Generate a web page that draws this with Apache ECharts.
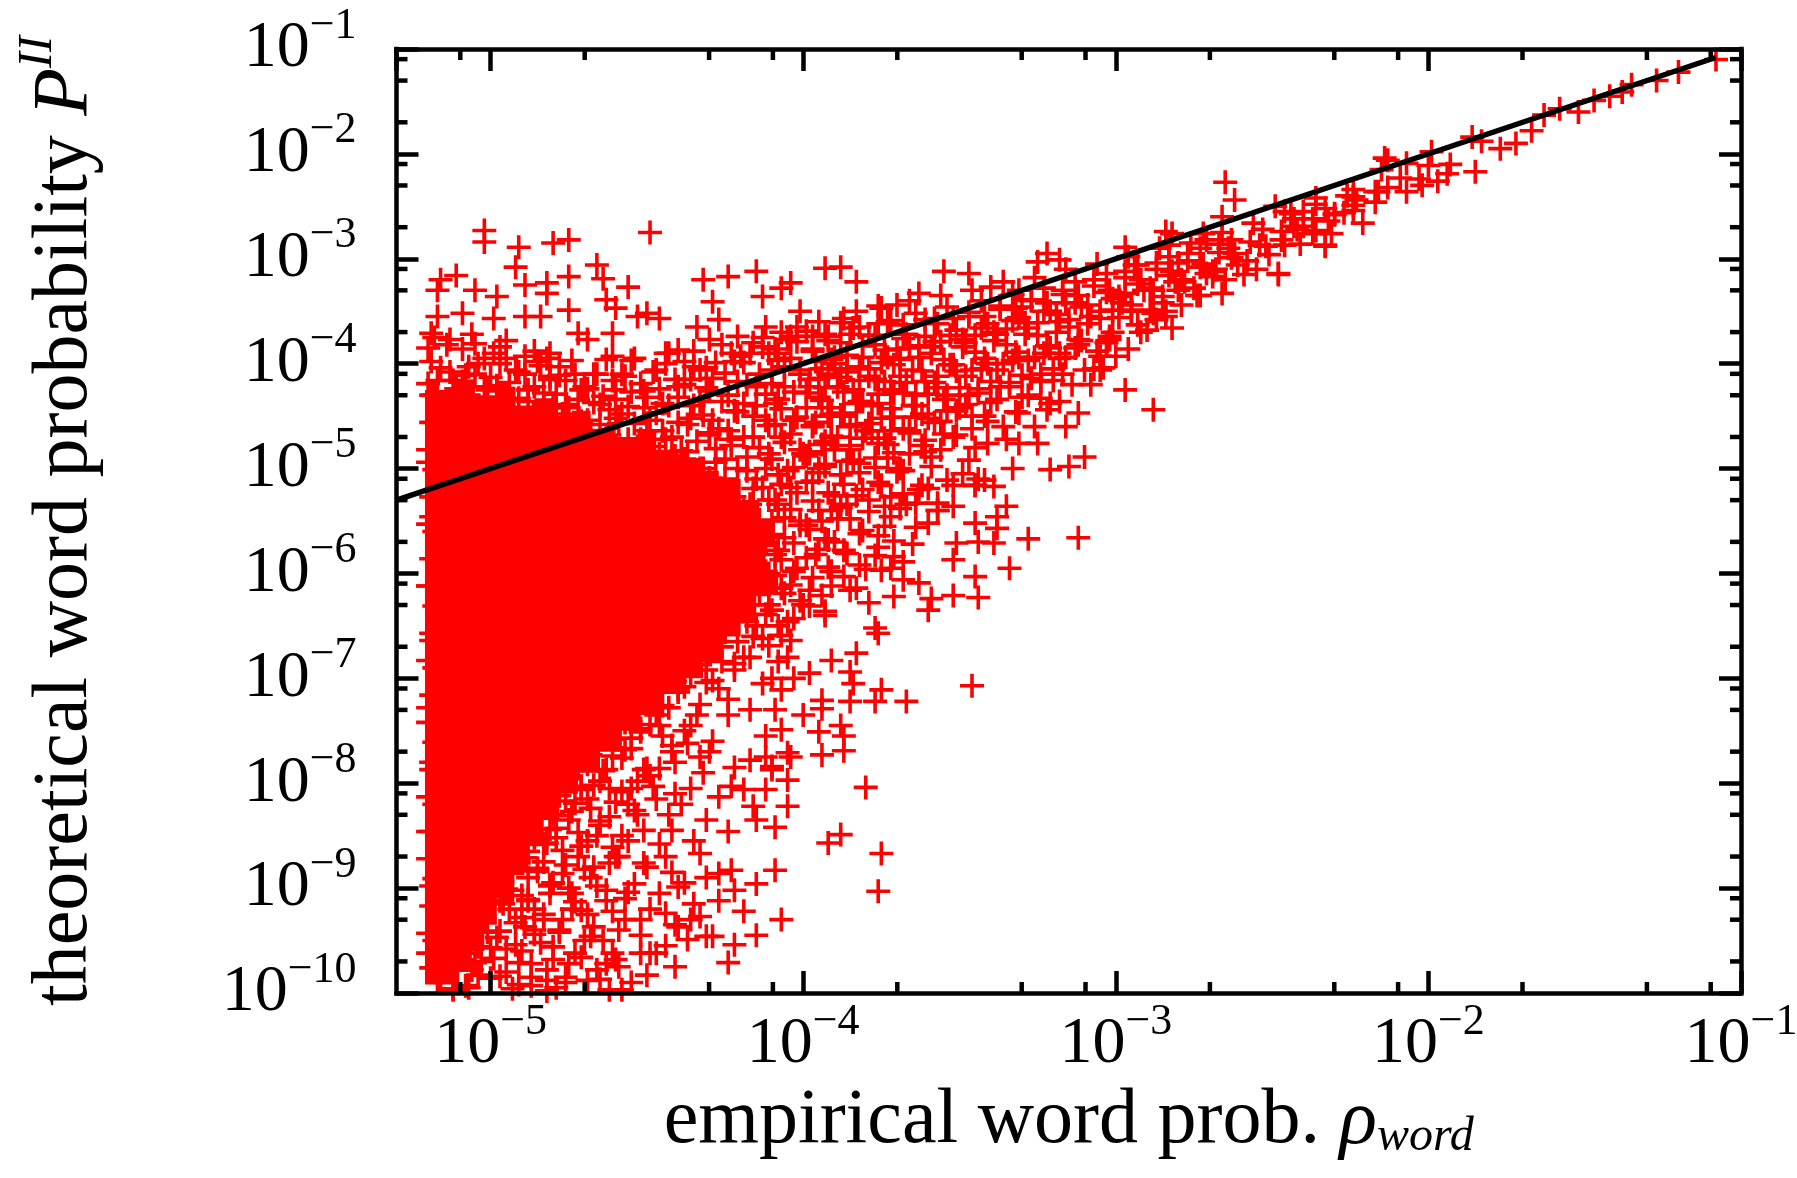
<!DOCTYPE html>
<html>
<head>
<meta charset="utf-8">
<script src="https://cdn.jsdelivr.net/npm/echarts@6/dist/echarts.min.js"></script>
<style>
html,body{margin:0;padding:0;background:#fff;}
#chart{width:1797px;height:1178px;}
</style>
</head>
<body>
<div id="chart"></div>
<script>
// Each word: [log10(rho_word), log10(P^II)]
const coreWords = [
[-5.18,-4.3],[-5.13,-4.35],[-5.16,-4.43],[-5.11,-4.49],[-5.19,-4.56],[-5.14,-4.6],[-5.17,-4.69],[-5.12,-4.75],[-5.2,-4.82],[-5.15,-4.87],[-5.13,-4.95],[-5.18,-5.01],[-5.11,-5.08],[-5.16,-5.12],[-5.14,-5.21],[-5.19,-5.27],[-5.12,-5.34],[-5.17,-5.39],[-5.15,-5.47],[-5.2,-5.53],
[-5.18,-5.6],[-5.13,-5.64],[-5.16,-5.73],[-5.11,-5.79],[-5.19,-5.86],[-5.14,-5.91],[-5.17,-5.99],[-5.12,-6.05],[-5.2,-6.12],[-5.15,-6.16],[-5.13,-6.25],[-5.18,-6.31],[-5.11,-6.38],[-5.16,-6.43],[-5.14,-6.51],[-5.19,-6.57],[-5.12,-6.64],[-5.17,-6.68],[-5.15,-6.77],[-5.2,-6.83],
[-5.18,-6.9],[-5.13,-6.95],[-5.16,-7.03],[-5.11,-7.09],[-5.19,-7.16],[-5.14,-7.2],[-5.17,-7.29],[-5.12,-7.35],[-5.2,-7.42],[-5.15,-7.47],[-5.13,-7.55],[-5.18,-7.61],[-5.11,-7.68],[-5.16,-7.72],[-5.14,-7.81],[-5.19,-7.87],[-5.12,-7.94],[-5.17,-7.99],[-5.15,-8.07],[-5.2,-8.13],
[-5.18,-8.2],[-5.13,-8.24],[-5.16,-8.33],[-5.11,-8.39],[-5.19,-8.46],[-5.14,-8.51],[-5.17,-8.59],[-5.12,-8.65],[-5.2,-8.72],[-5.15,-8.76],[-5.13,-8.85],[-5.18,-8.91],[-5.11,-8.98],[-5.16,-9.03],[-5.14,-9.11],[-5.19,-9.17],[-5.12,-9.24],[-5.17,-9.28],[-5.15,-9.37],[-5.2,-9.43],
[-5.18,-9.5],[-5.13,-9.55],[-5.16,-9.63],[-5.11,-9.69],[-5.19,-9.76],[-5.14,-9.8],[-5.17,-9.89],[-5.12,-9.97],
[-5.05,-4.1],[-5.09,-4.17],[-5.02,-4.22],[-5.07,-4.3],[-5.01,-4.36],[-5.1,-4.42],[-5.04,-4.49],[-5.08,-4.54],[-5.03,-4.62],[-5.06,-4.69],[-5,-4.74],[-5.07,-4.82],[-5.03,-4.88],
[-5.05,-4.94],[-5.09,-5.01],[-5.02,-5.06],[-5.07,-5.14],[-5.01,-5.21],[-5.1,-5.26],[-5.04,-5.34],[-5.08,-5.4],[-5.03,-5.46],[-5.06,-5.53],[-5,-5.58],[-5.07,-5.66],[-5.03,-5.73],
[-5.05,-5.78],[-5.09,-5.86],[-5.02,-5.92],[-5.07,-5.98],[-5.01,-6.05],[-5.1,-6.1],[-5.04,-6.18],[-5.08,-6.25],[-5.03,-6.3],[-5.06,-6.38],[-5,-6.44],[-5.07,-6.5],[-5.03,-6.57],
[-5.05,-6.62],[-5.09,-6.7],[-5.02,-6.77],[-5.07,-6.82],[-5.01,-6.9],[-5.1,-6.96],[-5.04,-7.02],[-5.08,-7.09],[-5.03,-7.14],[-5.06,-7.22],[-5,-7.29],[-5.07,-7.34],[-5.03,-7.42],
[-5.05,-7.48],[-5.09,-7.54],[-5.02,-7.61],[-5.07,-7.66],[-5.01,-7.74],[-5.1,-7.81],[-5.04,-7.86],[-5.08,-7.94],[-5.03,-8],[-5.06,-8.06],[-5,-8.13],[-5.07,-8.18],[-5.03,-8.26],
[-5.05,-8.33],[-5.09,-8.38],[-5.02,-8.46],[-5.07,-8.52],[-5.01,-8.58],[-5.1,-8.65],[-5.04,-8.7],[-5.08,-8.78],[-5.03,-8.85],[-5.06,-8.9],[-5,-8.98],[-5.07,-9.04],[-5.03,-9.1],
[-5.05,-9.17],[-5.09,-9.22],[-5.02,-9.3],[-5.07,-9.37],[-5.01,-9.42],[-5.1,-9.5],[-5.04,-9.56],[-5.08,-9.62],[-5.03,-9.7],[-5.06,-9.78],[-5,-9.86],[-5.07,-9.95],
[-4.97,-4],[-4.92,-4.06],[-5,-4.13],[-4.94,-4.18],[-4.98,-4.26],[-4.91,-4.33],[-4.96,-4.39],[-4.93,-4.44],[-4.99,-4.52],[-4.95,-4.58],[-4.9,-4.65],[-4.97,-4.7],[-4.94,-4.78],[-4.92,-4.85],[-4.98,-4.91],[-4.96,-4.96],[-4.91,-5.04],
[-4.97,-5.1],[-4.92,-5.17],[-5,-5.22],[-4.94,-5.3],[-4.98,-5.37],[-4.91,-5.43],[-4.96,-5.48],[-4.93,-5.56],[-4.99,-5.62],[-4.95,-5.69],[-4.9,-5.74],[-4.97,-5.82],[-4.94,-5.89],[-4.92,-5.95],[-4.98,-6],[-4.96,-6.08],[-4.91,-6.14],
[-4.97,-6.21],[-4.92,-6.26],[-5,-6.34],[-4.94,-6.41],[-4.98,-6.47],[-4.91,-6.52],[-4.96,-6.6],[-4.93,-6.66],[-4.99,-6.73],[-4.95,-6.78],[-4.9,-6.86],[-4.97,-6.93],[-4.94,-6.99],[-4.92,-7.04],[-4.98,-7.12],[-4.96,-7.18],[-4.91,-7.25],
[-4.97,-7.3],[-4.92,-7.38],[-5,-7.45],[-4.94,-7.51],[-4.98,-7.56],[-4.91,-7.64],[-4.96,-7.7],[-4.93,-7.77],[-4.99,-7.82],[-4.95,-7.9],[-4.9,-7.97],[-4.97,-8.03],[-4.94,-8.08],[-4.92,-8.16],[-4.98,-8.22],[-4.96,-8.29],[-4.91,-8.34],
[-4.97,-8.42],[-4.92,-8.49],[-5,-8.55],[-4.94,-8.6],[-4.98,-8.68],[-4.91,-8.74],[-4.96,-8.81],[-4.93,-8.86],[-4.99,-8.94],[-4.95,-9.01],[-4.9,-9.07],[-4.97,-9.12],[-4.94,-9.2],
[-4.92,-9.33],[-4.98,-9.47],[-4.95,-9.58],[-4.91,-9.71],[-4.97,-9.84],[-4.93,-9.96],
[-4.84,-4.02],[-4.89,-4.1],[-4.81,-4.15],[-4.86,-4.22],[-4.83,-4.28],[-4.88,-4.36],[-4.8,-4.42],[-4.85,-4.49],[-4.9,-4.54],[-4.82,-4.62],[-4.87,-4.67],
[-4.84,-4.74],[-4.89,-4.8],[-4.81,-4.88],[-4.86,-4.94],[-4.83,-5.01],[-4.88,-5.06],[-4.8,-5.14],[-4.85,-5.19],[-4.9,-5.26],[-4.82,-5.32],[-4.87,-5.4],
[-4.84,-5.46],[-4.89,-5.53],[-4.81,-5.58],[-4.86,-5.66],[-4.83,-5.71],[-4.88,-5.78],[-4.8,-5.84],[-4.85,-5.92],[-4.9,-5.98],[-4.82,-6.05],[-4.87,-6.1],
[-4.84,-6.18],[-4.89,-6.23],[-4.81,-6.3],[-4.86,-6.36],[-4.83,-6.44],[-4.88,-6.5],[-4.8,-6.57],[-4.85,-6.62],[-4.9,-6.7],[-4.82,-6.75],[-4.87,-6.82],
[-4.84,-6.88],[-4.89,-6.96],[-4.81,-7.02],[-4.86,-7.09],[-4.83,-7.14],[-4.88,-7.22],[-4.8,-7.27],[-4.85,-7.34],[-4.9,-7.4],[-4.82,-7.48],[-4.87,-7.54],
[-4.84,-7.61],[-4.89,-7.66],[-4.81,-7.74],[-4.86,-7.79],[-4.83,-7.86],[-4.88,-7.92],[-4.8,-8],[-4.85,-8.06],[-4.9,-8.13],[-4.82,-8.18],[-4.87,-8.26],
[-4.84,-8.31],[-4.89,-8.38],[-4.81,-8.44],[-4.86,-8.52],[-4.83,-8.58],[-4.88,-8.65],
[-4.85,-8.81],[-4.81,-8.97],[-4.88,-9.12],[-4.83,-9.3],[-4.86,-9.44],[-4.9,-9.6],[-4.82,-9.78],[-4.87,-9.93],
[-4.78,-4.03],[-4.73,-4.1],[-4.76,-4.16],[-4.7,-4.22],[-4.79,-4.29],[-4.72,-4.34],[-4.75,-4.42],[-4.77,-4.48],[-4.71,-4.55],
[-4.78,-4.62],[-4.73,-4.68],[-4.76,-4.74],[-4.7,-4.81],[-4.79,-4.86],[-4.72,-4.94],[-4.75,-5],[-4.77,-5.07],[-4.71,-5.14],
[-4.78,-5.2],[-4.73,-5.26],[-4.76,-5.33],[-4.7,-5.38],[-4.79,-5.46],[-4.72,-5.52],[-4.75,-5.59],[-4.77,-5.66],[-4.71,-5.72],
[-4.78,-5.78],[-4.73,-5.85],[-4.76,-5.9],[-4.7,-5.98],[-4.79,-6.04],[-4.72,-6.11],[-4.75,-6.18],[-4.77,-6.24],[-4.71,-6.3],
[-4.78,-6.37],[-4.73,-6.42],[-4.76,-6.5],[-4.7,-6.56],[-4.79,-6.63],[-4.72,-6.7],[-4.75,-6.76],[-4.77,-6.82],[-4.71,-6.89],
[-4.78,-6.94],[-4.73,-7.02],[-4.76,-7.08],[-4.7,-7.15],[-4.79,-7.22],[-4.72,-7.28],[-4.75,-7.34],[-4.77,-7.41],[-4.71,-7.46],
[-4.78,-7.54],[-4.73,-7.6],[-4.76,-7.67],[-4.7,-7.74],[-4.79,-7.8],[-4.72,-7.86],[-4.75,-7.93],[-4.77,-7.98],[-4.71,-8.06],
[-4.78,-8.12],[-4.73,-8.19],
[-4.75,-8.35],[-4.79,-8.52],[-4.72,-8.7],[-4.77,-8.86],[-4.74,-9.05],[-4.71,-9.21],[-4.78,-9.4],[-4.73,-9.62],[-4.76,-9.85],
[-4.66,-4.1],[-4.61,-4.16],[-4.69,-4.24],[-4.64,-4.31],[-4.67,-4.37],[-4.62,-4.44],[-4.6,-4.52],[-4.65,-4.58],[-4.68,-4.65],[-4.63,-4.71],[-4.7,-4.79],[-4.64,-4.86],[-4.67,-4.92],
[-4.66,-4.99],[-4.61,-5.07],[-4.69,-5.13],[-4.64,-5.2],[-4.67,-5.26],[-4.62,-5.34],[-4.6,-5.41],[-4.65,-5.47],[-4.68,-5.54],[-4.63,-5.62],[-4.7,-5.68],[-4.64,-5.75],[-4.67,-5.81],
[-4.66,-5.89],[-4.61,-5.96],[-4.69,-6.02],[-4.64,-6.09],[-4.67,-6.17],[-4.62,-6.23],[-4.6,-6.3],[-4.65,-6.36],[-4.68,-6.44],[-4.63,-6.51],[-4.7,-6.57],[-4.64,-6.64],[-4.67,-6.72],
[-4.66,-6.78],[-4.61,-6.85],[-4.69,-6.91],[-4.64,-6.99],[-4.67,-7.06],[-4.62,-7.12],[-4.6,-7.19],[-4.65,-7.27],[-4.68,-7.33],[-4.63,-7.4],[-4.7,-7.46],[-4.64,-7.54],[-4.67,-7.61],
[-4.66,-7.67],[-4.61,-7.74],[-4.69,-7.82],[-4.64,-7.88],
[-4.62,-8.05],[-4.68,-8.24],[-4.65,-8.4],[-4.61,-8.61],[-4.67,-8.8],[-4.63,-9.02],[-4.69,-9.25],[-4.64,-9.5],[-4.66,-9.78],[-4.62,-9.97],
[-4.57,-4.12],[-4.52,-4.19],[-4.55,-4.27],[-4.6,-4.34],[-4.51,-4.42],[-4.58,-4.48],[-4.54,-4.57],[-4.5,-4.64],[-4.56,-4.72],[-4.53,-4.79],[-4.59,-4.87],
[-4.57,-4.94],[-4.52,-5.02],[-4.55,-5.08],[-4.6,-5.17],[-4.51,-5.24],[-4.58,-5.32],[-4.54,-5.39],[-4.5,-5.47],[-4.56,-5.54],[-4.53,-5.62],[-4.59,-5.68],
[-4.57,-5.77],[-4.52,-5.84],[-4.55,-5.92],[-4.6,-5.99],[-4.51,-6.07],[-4.58,-6.14],[-4.54,-6.22],[-4.5,-6.28],[-4.56,-6.37],[-4.53,-6.44],[-4.59,-6.52],
[-4.57,-6.59],[-4.52,-6.67],[-4.55,-6.74],[-4.6,-6.82],[-4.51,-6.88],[-4.58,-6.97],[-4.54,-7.04],[-4.5,-7.12],[-4.56,-7.19],[-4.53,-7.27],[-4.59,-7.34],
[-4.57,-7.42],[-4.52,-7.48],[-4.55,-7.57],
[-4.58,-7.76],[-4.53,-7.98],[-4.56,-8.2],[-4.51,-8.45],[-4.59,-8.7],[-4.54,-8.96],[-4.57,-9.3],[-4.52,-9.62],[-4.55,-9.9],
[-4.44,-4],[-4.48,-4.08],[-4.41,-4.15],[-4.46,-4.24],[-4.5,-4.32],[-4.43,-4.4],[-4.47,-4.47],[-4.4,-4.56],[-4.45,-4.64],
[-4.44,-4.72],[-4.48,-4.79],[-4.41,-4.88],[-4.46,-4.96],[-4.5,-5.04],[-4.43,-5.11],[-4.47,-5.2],[-4.4,-5.28],[-4.45,-5.36],
[-4.44,-5.43],[-4.48,-5.52],[-4.41,-5.6],[-4.46,-5.68],[-4.5,-5.75],[-4.43,-5.84],[-4.47,-5.92],[-4.4,-6],[-4.45,-6.07],
[-4.44,-6.16],[-4.48,-6.24],[-4.41,-6.32],[-4.46,-6.39],[-4.5,-6.48],[-4.43,-6.56],[-4.47,-6.64],[-4.4,-6.71],[-4.45,-6.8],
[-4.44,-6.88],[-4.48,-6.96],[-4.41,-7.03],[-4.46,-7.12],[-4.5,-7.2],[-4.43,-7.28],[-4.47,-7.35],
[-4.45,-7.55],[-4.41,-7.8],[-4.48,-8.03],[-4.43,-8.3],[-4.46,-8.58],[-4.42,-8.85],[-4.49,-9.2],[-4.44,-9.55],
[-4.38,-3.98],[-4.33,-4.06],[-4.36,-4.15],[-4.31,-4.23],[-4.4,-4.32],[-4.35,-4.4],[-4.32,-4.49],[-4.37,-4.58],[-4.3,-4.66],[-4.34,-4.74],[-4.39,-4.83],
[-4.38,-4.91],[-4.33,-5],[-4.36,-5.08],[-4.31,-5.17],[-4.4,-5.26],[-4.35,-5.34],[-4.32,-5.42],[-4.37,-5.51],[-4.3,-5.59],[-4.34,-5.68],[-4.39,-5.76],
[-4.38,-5.85],[-4.33,-5.94],[-4.36,-6.02],[-4.31,-6.1],[-4.4,-6.19],[-4.35,-6.27],[-4.32,-6.36],[-4.37,-6.44],[-4.3,-6.53],[-4.34,-6.62],[-4.39,-6.7],
[-4.38,-6.78],[-4.33,-6.87],[-4.36,-6.95],[-4.31,-7.04],[-4.4,-7.13],
[-4.34,-7.35],[-4.37,-7.62],[-4.32,-7.9],[-4.39,-8.2],[-4.35,-8.55],[-4.31,-8.9],[-4.36,-9.3],
[-5.18,-3.75],[-5.14,-3.82],[-5.19,-3.98],[-5.13,-4.08],[-5.17,-4.16],[-5.11,-4.24],[-5.06,-3.72],[-5.09,-3.86],[-5.02,-3.95],[-5.07,-4.03],
[-4.95,-3.78],[-4.99,-3.9],[-4.86,-3.88],[-4.82,-3.95]
];

const coreWords2 = [
[-5.16,-4.04],[-5.12,-4.16],[-5.19,-4.3],[-5.14,-4.42],[-5.11,-4.56],[-5.17,-4.68],[-5.13,-4.82],[-5.2,-4.94],[-5.15,-5.08],
[-5.16,-5.2],[-5.12,-5.34],[-5.19,-5.46],[-5.14,-5.6],[-5.11,-5.72],[-5.17,-5.86],[-5.13,-5.98],[-5.2,-6.12],[-5.15,-6.24],
[-5.16,-6.38],[-5.12,-6.5],[-5.19,-6.64],[-5.14,-6.76],[-5.11,-6.9],[-5.17,-7.02],[-5.13,-7.16],[-5.2,-7.28],[-5.15,-7.42],
[-5.16,-7.54],[-5.12,-7.68],[-5.19,-7.8],[-5.14,-7.94],[-5.11,-8.06],[-5.17,-8.2],[-5.13,-8.32],[-5.2,-8.46],[-5.15,-8.58],
[-5.16,-8.72],[-5.12,-8.84],[-5.19,-8.98],[-5.14,-9.1],[-5.11,-9.24],[-5.17,-9.36],[-5.13,-9.5],[-5.2,-9.62],[-5.15,-9.76],
[-5.16,-9.88],[-5.12,-9.96],
[-5.04,-4],[-5.08,-4.11],[-5.01,-4.25],[-5.06,-4.37],[-5.09,-4.51],[-5.03,-4.63],[-5.07,-4.77],[-5,-4.89],[-5.05,-5.03],
[-5.04,-5.15],[-5.08,-5.29],[-5.01,-5.41],[-5.06,-5.55],[-5.09,-5.67],[-5.03,-5.81],[-5.07,-5.93],[-5,-6.07],[-5.05,-6.19],
[-5.04,-6.33],[-5.08,-6.45],[-5.01,-6.59],[-5.06,-6.71],[-5.09,-6.85],[-5.03,-6.97],[-5.07,-7.11],[-5,-7.23],[-5.05,-7.37],
[-5.04,-7.49],[-5.08,-7.63],[-5.01,-7.75],[-5.06,-7.89],[-5.09,-8.01],[-5.03,-8.15],[-5.07,-8.27],[-5,-8.41],[-5.05,-8.53],
[-5.04,-8.67],[-5.08,-8.79],[-5.01,-8.93],[-5.06,-9.05],[-5.09,-9.19],[-5.03,-9.31],[-5.07,-9.45],[-5,-9.57],[-5.05,-9.71],
[-5.04,-9.83],[-5.08,-9.93],
[-4.95,-3.95],[-4.91,-4.08],[-4.98,-4.21],[-4.93,-4.34],[-4.96,-4.47],[-4.9,-4.6],[-4.97,-4.73],[-4.92,-4.86],[-4.99,-4.99],
[-4.95,-5.12],[-4.91,-5.25],[-4.98,-5.38],[-4.93,-5.51],[-4.96,-5.64],[-4.9,-5.77],[-4.97,-5.9],[-4.92,-6.03],[-4.99,-6.16],
[-4.95,-6.29],[-4.91,-6.42],[-4.98,-6.55],[-4.93,-6.68],[-4.96,-6.81],[-4.9,-6.94],[-4.97,-7.07],[-4.92,-7.2],[-4.99,-7.33],
[-4.95,-7.46],[-4.91,-7.59],[-4.98,-7.72],[-4.93,-7.85],[-4.96,-7.98],[-4.9,-8.11],[-4.97,-8.24],[-4.92,-8.37],[-4.99,-8.5],
[-4.95,-8.63],[-4.91,-8.76],[-4.98,-8.89],[-4.93,-9.02],[-4.96,-9.15],[-4.9,-9.28],[-4.97,-9.41],[-4.92,-9.54],[-4.99,-9.67],
[-4.95,-9.8],[-4.91,-9.92],
[-4.85,-3.98],[-4.81,-4.12],[-4.88,-4.25],[-4.83,-4.39],[-4.86,-4.52],[-4.8,-4.66],[-4.87,-4.79],[-4.82,-4.93],[-4.89,-5.06],
[-4.85,-5.2],[-4.81,-5.33],[-4.88,-5.47],[-4.83,-5.6],[-4.86,-5.74],[-4.8,-5.87],[-4.87,-6.01],[-4.82,-6.14],[-4.89,-6.28],
[-4.85,-6.41],[-4.81,-6.55],[-4.88,-6.68],[-4.83,-6.82],[-4.86,-6.95],[-4.8,-7.09],[-4.87,-7.22],[-4.82,-7.36],[-4.89,-7.49],
[-4.85,-7.63],[-4.81,-7.76],[-4.88,-7.9],[-4.83,-8.03],[-4.86,-8.17],[-4.8,-8.3],[-4.87,-8.44],[-4.82,-8.57],[-4.89,-8.71],
[-4.85,-8.84],[-4.81,-8.98],[-4.88,-9.11],[-4.83,-9.25],[-4.86,-9.4],[-4.8,-9.56],[-4.87,-9.72],[-4.82,-9.88],
[-4.74,-3.97],[-4.78,-4.11],[-4.71,-4.25],[-4.76,-4.39],[-4.79,-4.53],[-4.72,-4.67],[-4.77,-4.81],[-4.7,-4.95],[-4.75,-5.09],
[-4.74,-5.23],[-4.78,-5.37],[-4.71,-5.51],[-4.76,-5.65],[-4.79,-5.79],[-4.72,-5.93],[-4.77,-6.07],[-4.7,-6.21],[-4.75,-6.35],
[-4.74,-6.49],[-4.78,-6.63],[-4.71,-6.77],[-4.76,-6.91],[-4.79,-7.05],[-4.72,-7.19],[-4.77,-7.33],[-4.7,-7.47],[-4.75,-7.61],
[-4.74,-7.75],[-4.78,-7.89],[-4.71,-8.03],[-4.76,-8.17],[-4.79,-8.31],[-4.72,-8.47],[-4.77,-8.64],[-4.7,-8.82],[-4.75,-9],
[-4.74,-9.2],[-4.78,-9.42],[-4.71,-9.66],[-4.76,-9.9],
[-4.63,-3.96],[-4.67,-4.1],[-4.6,-4.25],[-4.65,-4.39],[-4.69,-4.54],[-4.62,-4.68],[-4.66,-4.83],[-4.61,-4.97],[-4.68,-5.12],
[-4.63,-5.26],[-4.67,-5.41],[-4.6,-5.55],[-4.65,-5.7],[-4.69,-5.84],[-4.62,-5.99],[-4.66,-6.13],[-4.61,-6.28],[-4.68,-6.42],
[-4.63,-6.57],[-4.67,-6.71],[-4.6,-6.86],[-4.65,-7],[-4.69,-7.15],[-4.62,-7.29],[-4.66,-7.44],[-4.61,-7.58],[-4.68,-7.73],
[-4.63,-7.87],[-4.67,-8.02],[-4.6,-8.18],[-4.65,-8.36],[-4.69,-8.55],[-4.62,-8.76],[-4.66,-8.98],[-4.61,-9.22],[-4.68,-9.46],
[-4.63,-9.72],
[-4.54,-3.95],[-4.58,-4.1],[-4.51,-4.26],[-4.56,-4.41],[-4.59,-4.57],[-4.52,-4.72],[-4.57,-4.88],[-4.5,-5.03],[-4.55,-5.19],
[-4.54,-5.34],[-4.58,-5.5],[-4.51,-5.65],[-4.56,-5.81],[-4.59,-5.96],[-4.52,-6.12],[-4.57,-6.27],[-4.5,-6.43],[-4.55,-6.58],
[-4.54,-6.74],[-4.58,-6.89],[-4.51,-7.05],[-4.56,-7.2],[-4.59,-7.36],[-4.52,-7.51],[-4.57,-7.68],[-4.5,-7.86],[-4.55,-8.05],
[-4.54,-8.26],[-4.58,-8.5],[-4.51,-8.76],[-4.56,-9.04],[-4.59,-9.4],
[-4.43,-3.9],[-4.47,-4.06],[-4.4,-4.22],[-4.45,-4.38],[-4.49,-4.54],[-4.42,-4.7],[-4.46,-4.86],[-4.41,-5.02],[-4.48,-5.18],
[-4.43,-5.34],[-4.47,-5.5],[-4.4,-5.66],[-4.45,-5.82],[-4.49,-5.98],[-4.42,-6.14],[-4.46,-6.3],[-4.41,-6.46],[-4.48,-6.62],
[-4.43,-6.78],[-4.47,-6.94],[-4.4,-7.1],[-4.45,-7.26],[-4.49,-7.44],[-4.42,-7.64],[-4.46,-7.86],[-4.41,-8.1],
[-4.35,-3.88],[-4.31,-4.04],[-4.38,-4.2],[-4.33,-4.36],[-4.36,-4.52],[-4.3,-4.68],[-4.37,-4.84],[-4.32,-5],[-4.39,-5.16],
[-4.35,-5.32],[-4.31,-5.48],[-4.38,-5.64],[-4.33,-5.8],[-4.36,-5.96],[-4.3,-6.12],[-4.37,-6.28],[-4.32,-6.44],[-4.39,-6.6],
[-4.35,-6.76],[-4.31,-6.92],[-4.38,-7.08],[-4.33,-7.25],[-4.36,-7.45],[-4.3,-7.7],
[-4.26,-3.82],[-4.22,-3.98],[-4.29,-4.14],[-4.24,-4.3],[-4.21,-4.46],[-4.27,-4.62],[-4.23,-4.78],[-4.28,-4.94],[-4.25,-5.1],
[-4.26,-5.26],[-4.22,-5.42],[-4.29,-5.58],[-4.24,-5.74],[-4.21,-5.9],[-4.27,-6.06],[-4.23,-6.22],[-4.28,-6.38],[-4.25,-6.54],
[-4.26,-6.7],[-4.22,-6.86],[-4.29,-7.02],[-4.24,-7.2],
[-4.13,-3.75],[-4.17,-3.9],[-4.1,-4.06],[-4.15,-4.22],[-4.19,-4.38],[-4.12,-4.54],[-4.16,-4.7],[-4.11,-4.86],[-4.18,-5.02],
[-4.13,-5.18],[-4.17,-5.34],[-4.1,-5.5],[-4.15,-5.66],[-4.19,-5.82],[-4.12,-5.98],[-4.16,-6.14],[-4.11,-6.3],[-4.18,-6.46],
[-4.13,-6.62],[-4.17,-6.8],[-4.1,-7],
[-4.04,-3.74],[-4.08,-3.9],[-4.01,-4.06],[-4.06,-4.22],[-4.09,-4.38],[-4.03,-4.54],[-4.07,-4.7],[-4,-4.86],[-4.05,-5.02],
[-4.04,-5.18],[-4.08,-5.34],[-4.01,-5.5],[-4.06,-5.66],[-4.09,-5.82],[-4.03,-5.98],[-4.07,-6.14],[-4,-6.3],[-4.05,-6.46],
[-4.04,-6.64],[-4.08,-6.84]
];

const bandWords2 = [
[-3.93,-3.72],[-3.97,-3.86],[-3.9,-4],[-3.95,-4.14],[-3.99,-4.28],[-3.92,-4.42],[-3.96,-4.56],[-3.91,-4.7],[-3.98,-4.84],
[-3.93,-4.98],[-3.97,-5.12],[-3.9,-5.26],[-3.95,-5.4],[-3.99,-5.54],[-3.92,-5.68],[-3.96,-5.82],[-3.91,-5.98],[-3.98,-6.16],[-3.93,-6.36],
[-3.84,-3.66],[-3.88,-3.8],[-3.81,-3.94],[-3.86,-4.08],[-3.89,-4.22],[-3.82,-4.36],[-3.87,-4.5],[-3.8,-4.64],[-3.85,-4.78],
[-3.84,-4.92],[-3.88,-5.06],[-3.81,-5.2],[-3.86,-5.34],[-3.89,-5.48],[-3.82,-5.62],[-3.87,-5.78],[-3.8,-5.96],[-3.85,-6.16],
[-3.73,-3.6],[-3.77,-3.73],[-3.7,-3.86],[-3.75,-3.99],[-3.79,-4.12],[-3.72,-4.25],[-3.76,-4.38],[-3.71,-4.51],[-3.78,-4.64],
[-3.73,-4.77],[-3.77,-4.9],[-3.7,-5.03],[-3.75,-5.16],[-3.79,-5.3],[-3.72,-5.46],[-3.76,-5.64],[-3.71,-5.84],
[-3.64,-3.52],[-3.68,-3.63],[-3.61,-3.74],[-3.66,-3.85],[-3.69,-3.96],[-3.62,-4.07],[-3.67,-4.18],[-3.6,-4.29],[-3.65,-4.4],
[-3.64,-4.51],[-3.68,-4.62],[-3.61,-4.73],[-3.66,-4.86],[-3.69,-5],[-3.62,-5.16],[-3.67,-5.34],[-3.6,-5.52],[-3.65,-5.72],
[-3.54,-3.46],[-3.58,-3.57],[-3.51,-3.68],[-3.56,-3.79],[-3.59,-3.9],[-3.52,-4.01],[-3.57,-4.12],[-3.5,-4.23],[-3.55,-4.34],
[-3.54,-4.45],[-3.58,-4.56],[-3.51,-4.68],[-3.56,-4.82],[-3.59,-4.98],[-3.52,-5.16],[-3.57,-5.4],
[-3.43,-3.4],[-3.47,-3.51],[-3.41,-3.62],[-3.45,-3.73],[-3.49,-3.84],[-3.42,-3.95],[-3.46,-4.06],[-3.4,-4.17],[-3.44,-4.28],
[-3.48,-4.39],[-3.42,-4.5],[-3.46,-4.62],[-3.41,-4.76],[-3.47,-4.92],[-3.44,-5.1],
[-3.33,-3.34],[-3.37,-3.45],[-3.31,-3.56],[-3.35,-3.67],[-3.39,-3.78],[-3.32,-3.89],[-3.36,-4],[-3.3,-4.11],[-3.34,-4.22],
[-3.38,-4.34],[-3.32,-4.46],[-3.36,-4.6],[-3.31,-4.76],
[-3.23,-3.28],[-3.27,-3.39],[-3.21,-3.5],[-3.25,-3.61],[-3.29,-3.72],[-3.22,-3.83],[-3.26,-3.94],[-3.2,-4.05],[-3.24,-4.17],
[-3.28,-4.3],[-3.22,-4.44],[-3.26,-4.6],
[-3.13,-3.22],[-3.17,-3.34],[-3.11,-3.46],[-3.15,-3.58],[-3.19,-3.7],[-3.12,-3.82],[-3.16,-3.94],[-3.1,-4.06],[-3.14,-4.2],[-3.18,-4.36],
[-3.03,-3.14],[-3.07,-3.26],[-3.01,-3.38],[-3.05,-3.5],[-3.09,-3.62],[-3.02,-3.74],[-3.06,-3.88],[-3.04,-4.04],[-3.08,-4.2],
[-2.93,-3.06],[-2.97,-3.18],[-2.91,-3.3],[-2.95,-3.44],[-2.99,-3.56],[-2.92,-3.7],[-2.96,-3.86],
[-2.83,-2.98],[-2.87,-3.1],[-2.81,-3.22],[-2.85,-3.36],[-2.89,-3.5],[-2.82,-3.66],
[-2.73,-2.9],[-2.77,-3.02],[-2.71,-3.14],[-2.75,-3.28],[-2.79,-3.44],
[-2.63,-2.82],[-2.67,-2.94],[-2.61,-3.06],[-2.65,-3.2],
[-2.53,-2.72],[-2.57,-2.84],[-2.51,-2.96],[-2.55,-3.1],
[-2.43,-2.62],[-2.47,-2.74],[-2.41,-2.86],
[-2.33,-2.52],[-2.37,-2.62],[-2.31,-2.76],
[-2.23,-2.44],[-2.27,-2.56],[-2.21,-2.66],
[-2.13,-2.32],[-2.17,-2.46],[-2.03,-2.24],[-2.07,-2.36],
[-1.93,-2.1],[-1.97,-2.26],[-1.77,-1.95],[-1.72,-1.9],[-1.67,-1.78],[-1.52,-1.6],[-1.42,-1.45],[-1.27,-1.3],[-1.2,-1.22]
];

const bandWords3 = [
[-3.96,-3.98],[-3.92,-4.1],[-3.98,-4.22],[-3.94,-4.35],[-3.91,-4.48],[-3.97,-4.6],[-3.93,-4.74],[-3.99,-4.88],[-3.95,-5],
[-3.86,-3.92],[-3.82,-4.03],[-3.88,-4.13],[-3.84,-4.25],[-3.81,-4.36],[-3.87,-4.47],[-3.83,-4.58],[-3.89,-4.7],[-3.85,-4.82],[-3.82,-4.95],
[-3.77,-3.82],[-3.73,-3.94],[-3.79,-4.05],[-3.74,-4.17],[-3.71,-4.28],[-3.78,-4.4],[-3.75,-4.52],[-3.72,-4.64],[-3.76,-4.76],[-3.73,-4.9],
[-3.67,-3.72],[-3.63,-3.83],[-3.69,-3.95],[-3.65,-4.06],[-3.61,-4.17],[-3.68,-4.28],[-3.64,-4.4],[-3.6,-4.52],[-3.66,-4.64],[-3.62,-4.78],
[-3.57,-3.62],[-3.53,-3.73],[-3.59,-3.84],[-3.55,-3.96],[-3.51,-4.07],[-3.58,-4.18],[-3.54,-4.3],[-3.5,-4.42],[-3.56,-4.55],[-3.52,-4.7],
[-3.47,-3.55],[-3.43,-3.66],[-3.49,-3.77],[-3.45,-3.89],[-3.41,-4],[-3.48,-4.12],[-3.44,-4.24],[-3.4,-4.37],[-3.46,-4.5],
[-3.37,-3.48],[-3.33,-3.59],[-3.39,-3.7],[-3.35,-3.82],[-3.31,-3.94],[-3.38,-4.06],[-3.34,-4.18],[-3.3,-4.32],
[-3.27,-3.4],[-3.23,-3.5],[-3.29,-3.61],[-3.25,-3.73],[-3.21,-3.85],[-3.28,-3.97],[-3.24,-4.1],
[-3.17,-3.3],[-3.13,-3.42],[-3.19,-3.53],[-3.15,-3.65],[-3.11,-3.78],[-3.18,-3.9],
[-3.07,-3.2],[-3.03,-3.32],[-3.09,-3.44],[-3.05,-3.57],[-3.01,-3.7],
[-2.97,-3.12],[-2.93,-3.24],[-2.99,-3.36],[-2.95,-3.5],
[-2.87,-3.04],[-2.83,-3.16],[-2.89,-3.28],[-2.85,-3.42],
[-2.77,-2.95],[-2.73,-3.08],[-2.79,-3.2],
[-2.67,-2.86],[-2.63,-2.99],[-2.69,-3.12]
];

const lowerDenseWords = [
[-4.83,-8.75],[-4.88,-8.9],[-4.81,-9.05],[-4.86,-9.2],[-4.89,-9.37],[-4.84,-9.52],[-4.8,-9.68],[-4.87,-9.85],[-4.82,-9.98],
[-4.74,-8.27],[-4.79,-8.43],[-4.71,-8.6],[-4.76,-8.78],[-4.8,-8.95],[-4.73,-9.13],[-4.77,-9.3],[-4.7,-9.5],[-4.75,-9.72],[-4.79,-9.95],
[-4.65,-7.98],[-4.69,-8.15],[-4.62,-8.32],[-4.66,-8.5],[-4.6,-8.7],[-4.68,-8.9],[-4.63,-9.12],[-4.67,-9.37],[-4.61,-9.62],[-4.69,-9.88],
[-4.55,-7.67],[-4.51,-7.87],[-4.58,-8.08],[-4.53,-8.3],[-4.56,-8.55],[-4.5,-8.8],[-4.57,-9.1],[-4.52,-9.45],[-4.59,-9.75],
[-4.46,-7.45],[-4.42,-7.7],[-4.49,-7.93],[-4.38,-7.5],[-4.33,-7.75],[-4.36,-8.05],[-4.31,-8.35],[-4.47,-8.15],[-4.42,-8.45],[-4.44,-8.7],[-4.38,-8.95],[-4.35,-9.15],[-4.46,-9.05],[-4.41,-9.35]
];

const midWords = [
[-4.23,-3.9],[-4.28,-3.99],[-4.25,-4.09],[-4.21,-4.17],[-4.3,-4.26],[-4.26,-4.36],[-4.22,-4.45],[-4.29,-4.54],[-4.24,-4.64],
[-4.23,-4.72],[-4.28,-4.81],[-4.25,-4.91],[-4.21,-5],[-4.3,-5.09],[-4.26,-5.19],[-4.22,-5.27],[-4.29,-5.36],[-4.24,-5.46],
[-4.23,-5.55],[-4.28,-5.64],[-4.25,-5.74],[-4.21,-5.82],[-4.3,-5.91],[-4.26,-6.01],[-4.22,-6.1],[-4.29,-6.19],[-4.24,-6.29],
[-4.23,-6.37],[-4.28,-6.46],[-4.25,-6.56],[-4.21,-6.65],[-4.3,-6.74],[-4.26,-6.84],[-4.22,-6.92],
[-4.27,-7.1],[-4.24,-7.35],[-4.29,-7.6],[-4.22,-7.85],
[-4.16,-3.8],[-4.11,-3.9],[-4.19,-3.99],[-4.14,-4.1],[-4.18,-4.2],[-4.12,-4.29],[-4.15,-4.4],
[-4.16,-4.5],[-4.11,-4.59],[-4.19,-4.7],[-4.14,-4.8],[-4.18,-4.89],[-4.12,-5],[-4.15,-5.1],
[-4.16,-5.19],[-4.11,-5.3],[-4.19,-5.4],[-4.14,-5.49],[-4.18,-5.6],[-4.12,-5.7],[-4.15,-5.79],
[-4.16,-5.9],[-4.11,-6],[-4.19,-6.09],[-4.14,-6.2],[-4.18,-6.3],[-4.12,-6.39],[-4.15,-6.5],
[-4.16,-6.6],[-4.11,-6.69],[-4.19,-6.8],
[-4.13,-7.05],[-4.17,-7.3],[-4.12,-7.55],
[-4.07,-3.7],[-4.02,-3.79],[-4.09,-3.86],[-4.04,-3.95],[-4.06,-4.03],[-4.01,-4.1],[-4.1,-4.19],[-4.03,-4.27],[-4.08,-4.34],
[-4.07,-4.43],[-4.02,-4.51],[-4.09,-4.58],[-4.04,-4.67],[-4.06,-4.75],[-4.01,-4.82],[-4.1,-4.91],[-4.03,-4.99],[-4.08,-5.06],
[-4.07,-5.15],[-4.02,-5.23],[-4.09,-5.3],[-4.04,-5.39],[-4.06,-5.47],[-4.01,-5.54],[-4.1,-5.63],[-4.03,-5.71],[-4.08,-5.78],
[-4.07,-5.87],[-4.02,-5.95],[-4.09,-6.02],[-4.04,-6.11],[-4.06,-6.19],[-4.01,-6.26],[-4.1,-6.35],[-4.03,-6.43],[-4.08,-6.5],
[-4.07,-6.59],[-4.05,-6.8],
[-3.95,-3.6],[-3.99,-3.69],[-3.92,-3.78],[-3.97,-3.88],[-3.91,-3.96],[-3.94,-4.05],[-3.98,-4.15],[-3.93,-4.23],
[-3.95,-4.32],[-3.99,-4.42],[-3.92,-4.5],[-3.97,-4.59],[-3.91,-4.69],[-3.94,-4.77],[-3.98,-4.86],[-3.93,-4.96],
[-3.95,-5.04],[-3.99,-5.13],[-3.92,-5.23],[-3.97,-5.31],[-3.91,-5.4],[-3.94,-5.5],[-3.98,-5.58],[-3.93,-5.67],
[-3.95,-5.77],[-3.99,-5.85],[-3.92,-5.94],[-3.97,-6.04],[-3.91,-6.12],[-3.94,-6.21],[-3.98,-6.31],[-3.93,-6.4],
[-3.83,-3.5],[-3.88,-3.61],[-3.85,-3.72],[-3.81,-3.83],[-3.9,-3.94],[-3.86,-4.05],[-3.82,-4.16],[-3.87,-4.27],
[-3.83,-4.38],[-3.88,-4.49],[-3.85,-4.6],[-3.81,-4.71],[-3.9,-4.82],[-3.86,-4.93],[-3.82,-5.04],[-3.87,-5.15],
[-3.83,-5.26],[-3.88,-5.37],[-3.85,-5.48],[-3.81,-5.59],[-3.9,-5.7],[-3.86,-5.81],[-3.82,-5.92],[-3.87,-6.03],[-3.83,-6.14],
[-3.76,-3.45],[-3.72,-3.59],[-3.79,-3.73],[-3.74,-3.87],[-3.71,-4.01],[-3.77,-4.15],
[-3.76,-4.29],[-3.72,-4.43],[-3.79,-4.57],[-3.74,-4.71],[-3.71,-4.85],[-3.77,-4.99],
[-3.76,-5.13],[-3.72,-5.27],[-3.79,-5.41],[-3.74,-5.55],[-3.71,-5.69],[-3.77,-5.83],[-3.75,-5.97],
[-3.66,-3.4],[-3.61,-3.58],[-3.68,-3.76],[-3.63,-3.94],[-3.69,-4.12],[-3.64,-4.3],[-3.62,-4.48],
[-3.66,-4.66],[-3.61,-4.84],[-3.68,-5.02],[-3.63,-5.2],[-3.69,-5.38],[-3.64,-5.56],
[-3.56,-3.35],[-3.52,-3.57],[-3.58,-3.79],[-3.53,-4.01],[-3.57,-4.23],[-3.51,-4.45],[-3.55,-4.67],[-3.59,-4.89],[-3.54,-5.11],[-3.57,-5.33],
[-3.46,-3.3],[-3.42,-3.55],[-3.48,-3.8],[-3.43,-4.05],[-3.47,-4.3],[-3.41,-4.55],[-3.45,-4.8],[-3.49,-5.05],
[-3.36,-3.22],[-3.32,-3.47],[-3.38,-3.72],[-3.33,-3.97],[-3.37,-4.22],[-3.31,-4.47],[-3.35,-4.72],
[-3.26,-3.18],[-3.22,-3.42],[-3.28,-3.66],[-3.23,-3.9],[-3.27,-4.14],[-3.21,-4.38],
[-3.16,-3.1],[-3.12,-3.35],[-3.18,-3.6],[-3.13,-3.85],[-3.17,-4.1],
[-3.06,-3.05],[-3.02,-3.3],[-3.08,-3.55],[-3.03,-3.8],[-3.07,-4.05],
[-2.96,-2.98],[-2.92,-3.2],[-2.98,-3.42],[-2.93,-3.63],[-2.86,-2.9],[-2.82,-3.12],[-2.88,-3.3],[-2.84,-3.5],
[-2.76,-2.85],[-2.72,-3.05],[-2.78,-3.22],[-2.66,-2.75],[-2.62,-2.95],[-2.68,-3.1],[-2.56,-2.66],[-2.52,-2.88],
[-2.58,-3.02],[-2.46,-2.55],[-2.42,-2.72],[-2.36,-2.48],[-2.32,-2.64],[-2.26,-2.4]
];

const upperWords = [
[-5.02,-2.73],[-5.02,-2.84],[-4.91,-2.89],[-4.8,-2.85],[-4.75,-2.82],[-4.49,-2.75],
[-5.11,-3.16],[-5.16,-3.2],[-5.17,-3.3],[-5.05,-3.3],[-4.92,-3.08],[-4.89,-3.25],[-4.82,-3.23],[-4.75,-3.17],[-4.66,-3.06],[-4.64,-3.19],[-4.56,-3.27],[-4.63,-3.39],[-4.6,-3.47],[-4.75,-3.49],[-4.82,-3.33],[-4.98,-3.36],
[-4.32,-3.2],[-4.24,-3.17],[-4.15,-3.12],[-4.13,-3.36],[-4.07,-3.28],[-4.04,-3.23],[-3.93,-3.09],[-3.88,-3.08],[-3.83,-3.22],[-3.75,-3.47],
[-4.29,-3.41],[-4.27,-3.58],[-4.01,-3.5],[-4.02,-3.65],[-4.12,-3.65],[-4.34,-3.65],[-4.5,-3.52],[-4.46,-3.57],[-4.53,-3.55],[-4.72,-3.71],[-4.61,-3.71],[-4.4,-3.87],
[-4.84,-3.55],[-4.89,-3.55],[-4.99,-3.57],[-5.09,-3.52],[-5.17,-3.55],[-5.19,-3.71],[-5.2,-3.85],[-5.2,-4.19],
[-4.21,-3.74],[-4.13,-3.84],[-4.05,-3.77],[-3.97,-3.74],[-3.87,-3.57],[-3.82,-3.65],[-3.76,-3.62],[-3.92,-3.74],[-3.7,-3.44],
[-4.2,-3.93],[-4.08,-3.97],[-4.3,-3.77],[-4.35,-4.03],[-4.44,-3.9],[-4.55,-3.97],[-4.61,-3.93],[-4.69,-3.77],[-4.81,-3.9],[-4.89,-3.93],[-4.97,-3.84],[-5.05,-3.81],[-5.13,-3.77]
];

const bandWords = [
[-2.65,-2.27],[-2.62,-2.44],[-2.13,-2.06],[-2.16,-2.36],[-2.24,-2.41],[-2.24,-2.54],[-2.3,-2.58],[-2.33,-2.87],[-2.36,-2.73],[-2.4,-2.55],[-2.43,-2.69],[-2.46,-2.87],
[-2.54,-2.87],[-2.48,-3.15],[-2.59,-3.15],[-2.66,-3.33],[-2.64,-2.9],[-2.71,-2.82],[-2.69,-3.17],[-2.73,-3.35],[-2.8,-3.3],[-2.8,-3.04],[-2.82,-2.76],[-2.84,-3.55],
[-2.88,-3.49],[-2.9,-3.68],[-2.87,-3.58],[-2.95,-3.49],[-2.97,-3.33],[-2.97,-2.89],[-2.94,-3.06],[-3.01,-3.49],[-3.02,-3.77],[-3,-3.93],[-3.05,-4.06],[-2.97,-4.25],
[-2.88,-4.44],[-3.12,-4.47],[-3.16,-4.6],[-3.1,-4.89],[-3.15,-4.98],[-3.21,-5.01],[-3.33,-5],[-3.42,-5.11],[-3.45,-5.16],[-3.12,-3.77],[-3.05,-3.93],[-3.18,-3.95],
[-3.2,-4.16],[-3.24,-4.33],[-3.25,-4.76],[-3.16,-3.42],[-3.18,-3.01],[-3.22,-2.95],[-3.25,-3.03],[-3.47,-3.14],[-3.55,-3.12],[-3.63,-3.33],[-3.4,-3.27],[-3.31,-3.3],[-3.3,-3.46],
[-1.08,-1.1],[-1.35,-1.34],[-1.38,-1.41],[-1.47,-1.49],[-1.58,-1.57],[-1.63,-1.63],[-1.83,-1.88],[-1.86,-1.84],[-1.85,-2.17],[-1.94,-2.19],[-2.02,-2.3],[-2,-2.11],
[-1.99,-1.98],[-2.07,-2.09],[-2.09,-2.23],[-2.14,-2.04],[-2.15,-2.15],[-2.17,-2.36],[-2.24,-2.49],[-2.24,-2.34],[-2.3,-2.57],[-2.36,-2.42],[-2.49,-2.5],[-2.44,-2.57],
[-2.47,-2.82],[-2.37,-2.76],[-2.33,-2.88],[-2.4,-2.69],[-2.48,-3.14],[-2.66,-2.6],[-2.72,-2.76],[-2.84,-2.74],[-2.83,-2.87],[-2.74,-3.35],[-2.88,-3.52]
];

const lowerWords = [
[-3.12,-5.66],[-3.28,-5.67],[-3.34,-5.95],[-3.45,-6.03],[-3.44,-6.23],[-3.52,-6.21],[-3.59,-6.24],[-3.6,-6.35],[-3.63,-6.09],[-3.68,-6.06],[-3.68,-5.89],[-3.71,-6.22],
[-3.52,-5.87],[-3.51,-5.71],[-3.44,-5.7],[-3.39,-5.71],[-3.45,-5.52],[-3.38,-5.46],[-3.35,-5.36],[-3.38,-5.57],[-3.52,-5.36],[-3.57,-5.4],[-3.45,-5.16],[-3.39,-5.17],
[-3.46,-7.07],[-3.67,-7.22],[-3.75,-7.11],[-3.77,-7.22],[-3.85,-7.22],[-3.88,-7.45],[-3.87,-7.55],[-3.95,-7.51],[-3.94,-7.21],[-3.94,-7.29],[-4,-7.35],[-3.83,-6.76],
[-3.85,-6.94],[-3.84,-7.05],[-3.91,-6.83],[-3.76,-6.57],[-3.77,-6.52],[-3.79,-6.28],[-3.72,-5.95],[-3.76,-5.75],[-3.74,-5.36],[-3.64,-5.33],[-3.6,-5.19],[-3.68,-5.24],
[-3.98,-6.95],[-4.07,-7.11],[-4.03,-7],[-4.09,-7.3],[-4.07,-7.49],[-4.05,-7.71],[-4.12,-7.75],[-4.1,-7.87],[-4.19,-8.06],[-4.27,-8.13],
[-3.94,-7.73],[-3.87,-7.69],[-3.8,-8.04],[-3.88,-8.49],[-3.92,-8.57],[-3.75,-8.67],[-3.76,-9.03],[-4.07,-9.3],[-4.15,-9.45],[-4.22,-9.54],[-4.24,-9.71],[-4.19,-9.22],
[-4.27,-9.12],[-4.22,-9.02],[-4.15,-8.96],[-4.09,-8.83],[-4.09,-8.42],[-4.05,-8.22],[-4.12,-8.06],[-4.24,-8.46],[-4.31,-9.46],[-4.29,-9.46],[-4.33,-9.27],[-4.4,-8.99],
[-4.37,-9.49],[-4.41,-9.75],[-4.5,-9.83],[-4.58,-9.97],[-4.47,-9.62],[-4.27,-8.86],[-4.23,-8.83],[-4.33,-8.67],[-4.16,-8.22],[-4.15,-8.35],[-4.23,-8.03],[-4.1,-7.84],
[-4.04,-7.75],[-4.17,-7.78],[-4.05,-7.97],[-4.4,-9.37],[-4.44,-9.24],[-4.52,-9.3],[-4.49,-9.62],[-4.6,-9.68],[-4.65,-9.87]
];

// Stepped outline (log10 rho, log10 P) of the area where the '+' marks overlap into solid red in the reference
const saturatedCore = [
[-5.21,-4.25],[-5.12,-4.25],[-5.12,-4.15],[-5.05,-4.15],[-5.05,-4.3],[-4.98,-4.3],[-4.98,-4.22],[-4.92,-4.22],[-4.92,-4.4],[-4.86,-4.4],
[-4.86,-4.33],[-4.8,-4.33],[-4.8,-4.5],[-4.74,-4.5],[-4.74,-4.45],[-4.68,-4.45],[-4.68,-4.62],[-4.6,-4.62],[-4.6,-4.7],[-4.53,-4.7],
[-4.53,-4.64],[-4.47,-4.64],[-4.47,-4.82],[-4.4,-4.82],[-4.4,-4.9],[-4.33,-4.9],[-4.33,-5.02],[-4.27,-5.02],[-4.27,-5.1],[-4.2,-5.1],
[-4.2,-5.3],[-4.14,-5.3],[-4.14,-5.5],[-4.09,-5.5],[-4.09,-5.75],[-4.12,-5.75],[-4.12,-6],[-4.08,-6],[-4.08,-6.2],[-4.15,-6.2],
[-4.15,-6.45],[-4.2,-6.45],[-4.2,-6.6],[-4.26,-6.6],[-4.26,-6.85],[-4.32,-6.85],[-4.32,-7],[-4.38,-7],[-4.38,-7.15],[-4.45,-7.15],
[-4.45,-7.35],[-4.52,-7.35],[-4.52,-7.5],[-4.58,-7.5],[-4.58,-7.7],[-4.65,-7.7],[-4.65,-7.9],[-4.72,-7.9],[-4.72,-8.1],[-4.78,-8.1],
[-4.78,-8.35],[-4.83,-8.35],[-4.83,-8.6],[-4.88,-8.6],[-4.88,-8.85],[-4.93,-8.85],[-4.93,-9.1],[-4.98,-9.1],[-4.98,-9.35],[-5.02,-9.35],
[-5.02,-9.6],[-5.06,-9.6],[-5.06,-9.8],[-5.1,-9.8],[-5.1,-9.92],[-5.21,-9.92]
];

// Reference line P = rho (endpoints in data units)
const identityRho = [5e-6, 0.083];

// Axis ranges and tick decorations
const rhoMin = 5e-6, rhoMax = 0.1;
const pMin = 1e-10, pMax = 0.1;
const minorMantissas = [2, 5, 8];

const FONT = 'Liberation Serif';
const allWords = [].concat(coreWords, coreWords2, lowerDenseWords, midWords, bandWords2, bandWords3, upperWords, bandWords, lowerWords);
const scatterData = allWords.map(p => [Math.pow(10, p[0]), Math.pow(10, p[1])]);
const lineData = identityRho.map(v => [v, v]);
const coreData = saturatedCore.map(p => [Math.pow(10, p[0]), Math.pow(10, p[1])]);

function minorValues(lo, hi) {
  const out = [];
  for (let d = -11; d <= 0; d++) {
    minorMantissas.forEach(m => {
      const v = m * Math.pow(10, d);
      if (v > lo * 1.0001 && v < hi * 0.9999) out.push(v);
    });
  }
  return out;
}
const xMinorData = minorValues(rhoMin, rhoMax).map(v => [v, pMin]);
const yMinorData = minorValues(pMin, pMax).map(v => [rhoMin, v]);

function decadeLabel(value) {
  const lg = Math.log10(value);
  const e = Math.round(lg);
  if (Math.abs(lg - e) > 1e-6) return '';
  return '{b|10}{s|\u2212' + (-e) + '}';
}
const labelRich = {
  b: { fontFamily: FONT, fontSize: 66, lineHeight: 66, color: '#000', verticalAlign: 'bottom' },
  s: { fontFamily: FONT, fontSize: 44, lineHeight: 44, color: '#000', verticalAlign: 'bottom', padding: [0, 0, 34, 0] }
};
const titleRich = {
  t: { fontFamily: FONT, fontSize: 78, lineHeight: 90, color: '#000', verticalAlign: 'bottom' },
  i: { fontFamily: FONT, fontSize: 78, lineHeight: 90, color: '#000', fontStyle: 'italic', verticalAlign: 'bottom' },
  sub: { fontFamily: FONT, fontSize: 48, lineHeight: 48, color: '#000', fontStyle: 'italic', verticalAlign: 'bottom' },
  sup: { fontFamily: FONT, fontSize: 48, lineHeight: 48, color: '#000', fontStyle: 'italic', verticalAlign: 'top' }
};

const frameLine = { show: true, onZero: false, lineStyle: { color: '#000', width: 4.5, cap: 'square' } };
const majorTick = { show: true, inside: true, length: 22, lineStyle: { color: '#000', width: 4.5 } };
const MINOR_LEN = 11;

function renderMinorX(params, api) {
  const cs = params.coordSys;
  const x = api.coord([api.value(0), api.value(1)])[0];
  const b = cs.y + cs.height, t = cs.y;
  const st = { stroke: '#000', lineWidth: 4.5 };
  return { type: 'group', children: [
    { type: 'line', shape: { x1: x, y1: b, x2: x, y2: b - MINOR_LEN }, style: st },
    { type: 'line', shape: { x1: x, y1: t, x2: x, y2: t + MINOR_LEN }, style: st }
  ]};
}
function renderMinorY(params, api) {
  const cs = params.coordSys;
  const y = api.coord([api.value(0), api.value(1)])[1];
  const l = cs.x, r = cs.x + cs.width;
  const st = { stroke: '#000', lineWidth: 4.5 };
  return { type: 'group', children: [
    { type: 'line', shape: { x1: l, y1: y, x2: l + MINOR_LEN, y2: y }, style: st },
    { type: 'line', shape: { x1: r, y1: y, x2: r - MINOR_LEN, y2: y }, style: st }
  ]};
}
function renderCore(params, api) {
  if (params.dataIndex !== 0) return null;
  const pts = coreData.map(p => api.coord(p));
  return { type: 'polygon', shape: { points: pts }, style: { fill: '#ff0000' } };
}

const plusSymbol = 'path://M0,10.2H24V13.8H0ZM10.2,0H13.8V24H10.2Z';

const chart = echarts.init(document.getElementById('chart'), null, { renderer: 'canvas' });
chart.setOption({
  animation: false,
  backgroundColor: '#ffffff',
  grid: { left: 396.5, right: 56, top: 49, bottom: 185, containLabel: false, outerBoundsMode: 'none' },
  xAxis: [
    {
      type: 'log', logBase: 10, min: rhoMin, max: rhoMax, position: 'bottom', z: 10,
      axisLine: frameLine, axisTick: majorTick, splitLine: { show: false }, minorTick: { show: false },
      axisLabel: { show: true, margin: 19, showMinLabel: false, showMaxLabel: true, formatter: decadeLabel, rich: labelRich, fontFamily: FONT, color: '#000' },
      name: '{t|empirical word prob. }{i|\u03c1}{sub|word}',
      nameLocation: 'middle', nameGap: 78, nameMoveOverlap: false,
      nameTextStyle: { fontFamily: FONT, fontSize: 78, color: '#000', rich: titleRich }
    },
    {
      type: 'log', logBase: 10, min: rhoMin, max: rhoMax, position: 'top', z: 10,
      axisLine: frameLine, axisTick: majorTick, splitLine: { show: false },
      axisLabel: { show: false }
    }
  ],
  yAxis: [
    {
      type: 'log', logBase: 10, min: pMin, max: pMax, position: 'left', z: 10,
      axisLine: frameLine, axisTick: majorTick, splitLine: { show: false }, minorTick: { show: false },
      axisLabel: { show: true, margin: 40, showMinLabel: true, showMaxLabel: true, formatter: decadeLabel, rich: labelRich, fontFamily: FONT, color: '#000' },
      name: '{t|theoretical word probability }{i|P}{sup|II}',
      nameLocation: 'middle', nameGap: 292, nameMoveOverlap: false,
      nameTextStyle: { fontFamily: FONT, fontSize: 78, color: '#000', rich: titleRich }
    },
    {
      type: 'log', logBase: 10, min: pMin, max: pMax, position: 'right', z: 10,
      axisLine: frameLine, axisTick: majorTick, splitLine: { show: false },
      axisLabel: { show: false }
    }
  ],
  series: [
    {
      type: 'custom', xAxisIndex: 0, yAxisIndex: 0, data: [coreData[0]],
      renderItem: renderCore, silent: true, clip: true, z: 1
    },
    {
      type: 'scatter', xAxisIndex: 0, yAxisIndex: 0, data: scatterData,
      symbol: plusSymbol, symbolSize: 24, itemStyle: { color: '#ff0000', opacity: 1 },
      silent: true, progressive: 0, large: false, largeThreshold: 100000, z: 2
    },
    {
      type: 'line', xAxisIndex: 0, yAxisIndex: 0, data: lineData,
      showSymbol: false, symbol: 'none', lineStyle: { color: '#000000', width: 5.5 },
      silent: true, z: 3
    },
    {
      type: 'custom', xAxisIndex: 0, yAxisIndex: 0, data: xMinorData,
      renderItem: renderMinorX, silent: true, clip: false, z: 5
    },
    {
      type: 'custom', xAxisIndex: 0, yAxisIndex: 0, data: yMinorData,
      renderItem: renderMinorY, silent: true, clip: false, z: 5
    }
  ]
});
</script>
</body>
</html>
